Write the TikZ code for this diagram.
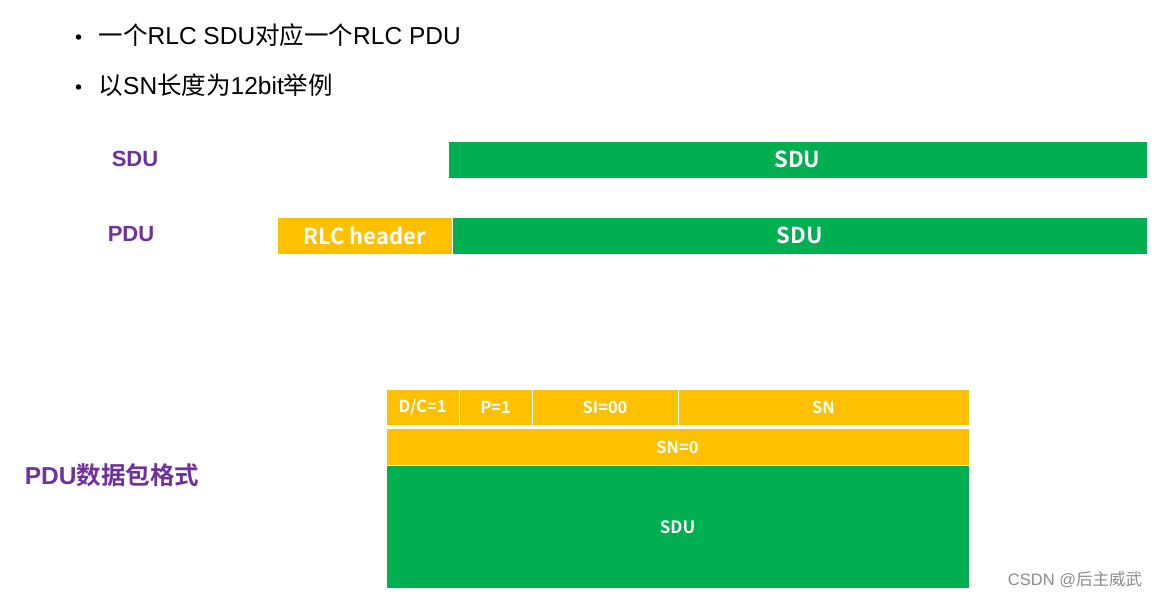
\documentclass[tikz,border=0pt]{standalone}
\usepackage{fontspec}
\setmainfont{Liberation Sans}
\newfontfamily\cjk{Noto Sans CJK SC}[BoldFont={Noto Sans CJK SC Bold}]
\newfontfamily\boxf{Noto Sans CJK SC}[BoldFont={Noto Sans CJK SC Bold}]
\definecolor{rgreen}{HTML}{00B050}
\definecolor{ryellow}{HTML}{FFC000}
\definecolor{rpurple}{HTML}{7030A0}
\newcommand{\fs}[1]{\fontsize{#1}{#1}\selectfont}
\begin{document}
\begin{tikzpicture}[x=1pt,y=-1pt,
  cell/.style={anchor=north west, inner sep=0pt, outer sep=0pt, draw=white, line width=0.8pt, text=white},
  gcell/.style={cell, fill=rgreen, font=\boxf\bfseries\fs{22}},
  ycell/.style={cell, fill=ryellow, font=\boxf\bfseries\fs{22}},
  fcell/.style={cell, fill=ryellow, font=\boxf\bfseries\fs{16.5}},
  lbl/.style={text=rpurple, font=\bfseries\fs{22}, inner sep=0pt},
  bul/.style={anchor=west, inner sep=0pt, font=\fs{24.5}},
  dot/.style={circle, fill=black, inner sep=0pt, minimum size=5.5pt}
]
\useasboundingbox (0,0) rectangle (1159,599);
% bullets
\node[dot] (d1) at (78.5,37) {};
\node[bul] (b1) at (98.5,35) {{\cjk 一个}RLC SDU{\cjk 对应一个}RLC PDU};
\node[dot] (d2) at (78.5,87) {};
\node[bul] (b2) at (98.5,85) {{\cjk 以}SN{\cjk 长度为}12bit{\cjk 举例}};
% labels
\node[lbl] (lsdu) at (135,159) {SDU};
\node[lbl] (lpdu) at (131,234) {PDU};
\node[lbl, font=\bfseries\fs{24.5}] (lfmt) at (112,475) {PDU{\cjk\bfseries 数据包格式}};
% SDU / PDU bars
\node[gcell, minimum width=699pt, minimum height=37pt] (sdu) at (448,141) {SDU};
\node[ycell, minimum width=175pt, minimum height=37pt] (hdr) at (277,217) {RLC header};
\node[gcell, minimum width=695pt, minimum height=37pt] (psdu) at (452,217) {SDU};
% PDU format
\node[fcell, minimum width=73pt, minimum height=36pt] (dc) at (386,389) {D/C=1};
\node[fcell, minimum width=73pt, minimum height=36pt] (p) at (459,389) {P=1};
\node[fcell, minimum width=146pt, minimum height=36pt] (si) at (532,389) {SI=00};
\node[fcell, minimum width=291pt, minimum height=36pt] (sn) at (678,389) {SN};
\node[fcell, minimum width=583pt, minimum height=37pt] (sn0) at (386,428.5) {SN=0};
\node[cell, fill=rgreen, font=\boxf\bfseries\fs{17}, minimum width=583pt, minimum height=123pt] (fsdu) at (386,465.5) {SDU};
% watermark
\node[inner sep=0pt, text=black!45, font=\fs{16.5}] (wm) at (1075,580) {CSDN @{\cjk 后主威武}};
\end{tikzpicture}
\end{document}
